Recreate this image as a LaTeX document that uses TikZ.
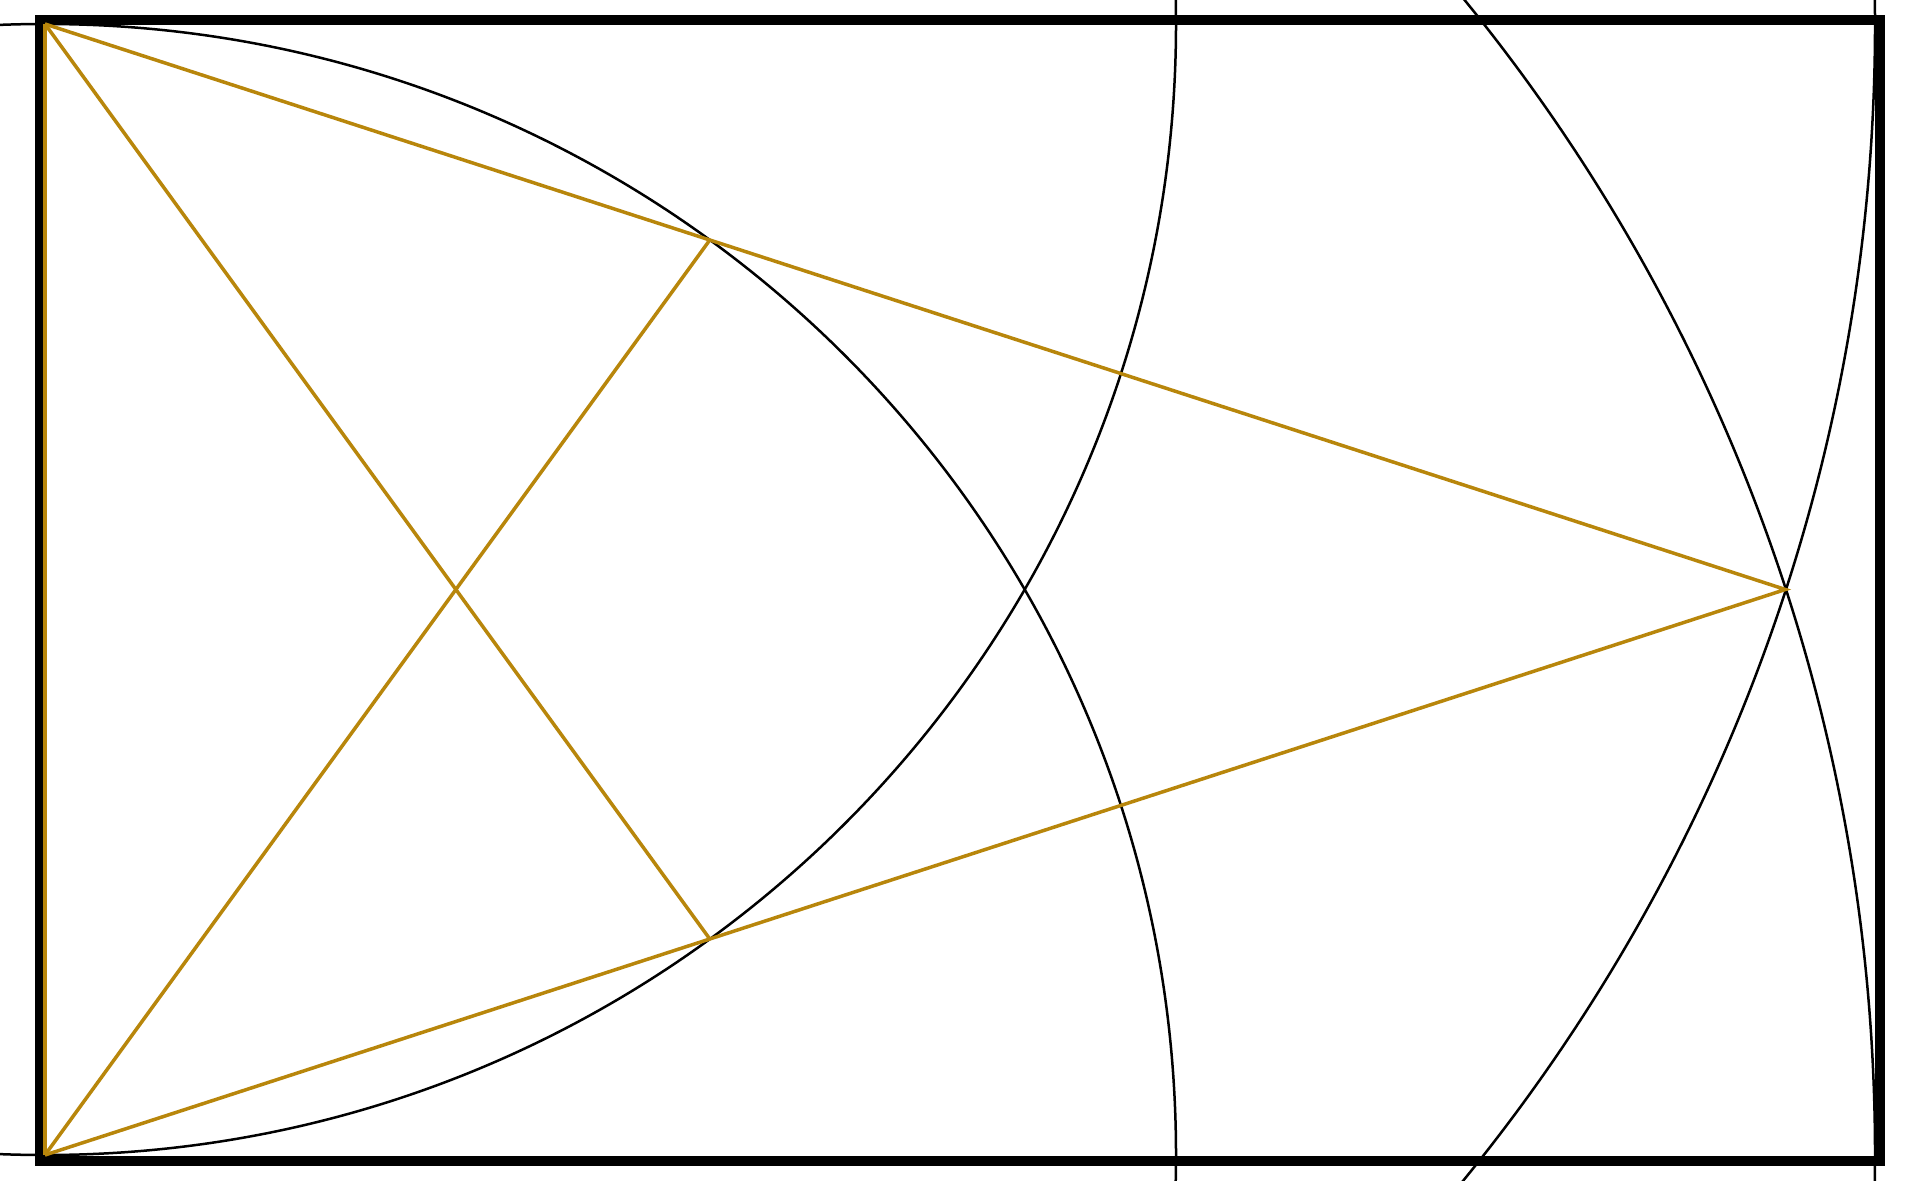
\documentclass[tikz,border=0pt]{standalone}
\definecolor{gold}{RGB}{184,134,11}
\tikzset{
  frameline/.style={line width=5pt, draw=black},
  arcline/.style={line width=1.25pt, draw=black},
  goldline/.style={line width=1.75pt, draw=gold, line join=miter}
}
\begin{document}
\begin{tikzpicture}[x=0.5pt,y=-0.5pt]
\useasboundingbox (0,0) rectangle (1920,1181);
\clip (0,0) rectangle (1920,1181);
\fill[white] (0,0) rectangle (1920,1181);
% construction points
\coordinate (A) at (45,24);
\coordinate (B) at (45,1155);
\coordinate (P) at (1785.4,589.5);
\coordinate (C) at (709.8,240.0);
\coordinate (D) at (709.8,939.0);
% frame
\draw[frameline] (40,20) rectangle (1880,1160.5);
% circles
\draw[arcline] (B) circle[radius=1131];
\draw[arcline] (A) circle[radius=1131];
\draw[arcline] (A) circle[radius=1830];
\draw[arcline] (B) circle[radius=1830];
% golden lines
\draw[goldline] (A) -- (B);
\draw[goldline] (A) -- (P) -- (B);
\draw[goldline] (A) -- (D);
\draw[goldline] (B) -- (C);
\end{tikzpicture}
\end{document}
